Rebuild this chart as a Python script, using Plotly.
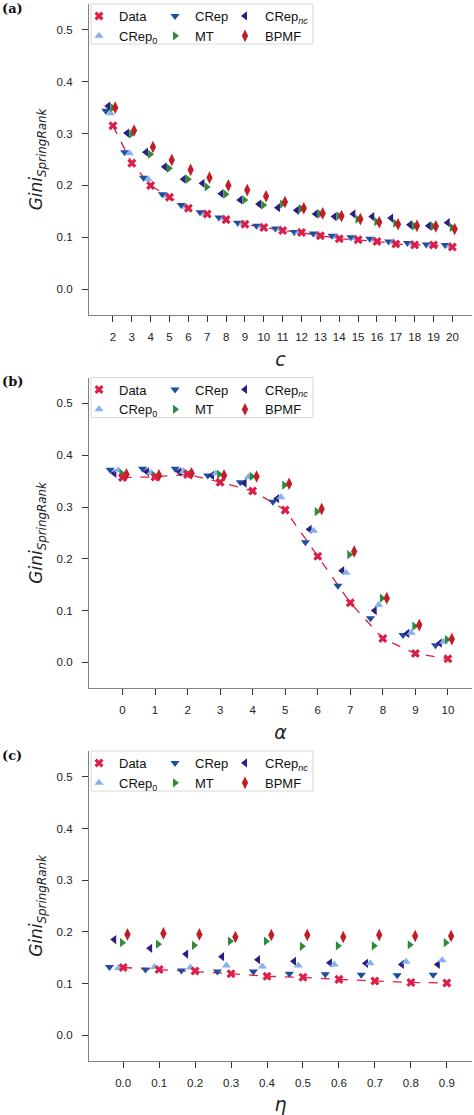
import plotly.graph_objects as go
from plotly.subplots import make_subplots

# ---- data ----
c_vals = list(range(2, 21))
a_data = [0.315, 0.243, 0.200, 0.177, 0.156, 0.145, 0.134, 0.125, 0.119, 0.113,
          0.109, 0.103, 0.097, 0.095, 0.092, 0.087, 0.085, 0.085, 0.081]
a_crep = [0.344, 0.264, 0.215, 0.183, 0.162, 0.148, 0.138, 0.128, 0.122, 0.117,
          0.110, 0.107, 0.103, 0.100, 0.097, 0.092, 0.089, 0.086, 0.085]
a_crep_nc = [0.353, 0.301, 0.264, 0.236, 0.212, 0.204, 0.184, 0.172, 0.164, 0.157,
             0.152, 0.145, 0.140, 0.145, 0.140, 0.137, 0.124, 0.122, 0.128]
a_crep0 = [0.339, 0.262, 0.212, 0.180, 0.159, 0.146, 0.137, 0.127, 0.121, 0.116,
           0.110, 0.105, 0.101, 0.098, 0.095, 0.091, 0.088, 0.085, 0.084]
a_mt = [0.350, 0.299, 0.260, 0.233, 0.212, 0.197, 0.183, 0.172, 0.162, 0.164,
        0.155, 0.145, 0.141, 0.135, 0.130, 0.127, 0.122, 0.121, 0.119]
a_bpmf = [0.350, 0.306, 0.274, 0.249, 0.230, 0.215, 0.200, 0.191, 0.179, 0.168,
          0.156, 0.146, 0.141, 0.135, 0.129, 0.125, 0.122, 0.121, 0.116]

alpha_vals = list(range(0, 11))
b_data = [0.357, 0.358, 0.363, 0.348, 0.331, 0.294, 0.205, 0.115, 0.046, 0.017, 0.007]
b_crep = [0.372, 0.374, 0.374, 0.361, 0.348, 0.310, 0.232, 0.148, 0.085, 0.053, 0.033]
b_crep_nc = [0.365, 0.368, 0.368, 0.361, 0.346, 0.316, 0.257, 0.177, 0.100, 0.056, 0.037]
b_crep0 = [0.371, 0.366, 0.369, 0.365, 0.358, 0.319, 0.254, 0.173, 0.111, 0.057, 0.040]
b_mt = [0.365, 0.361, 0.365, 0.363, 0.359, 0.342, 0.291, 0.208, 0.124, 0.070, 0.044]
b_bpmf = [0.363, 0.361, 0.365, 0.361, 0.359, 0.345, 0.296, 0.214, 0.124, 0.072, 0.045]

eta_vals = [0.0, 0.1, 0.2, 0.3, 0.4, 0.5, 0.6, 0.7, 0.8, 0.9]
eta_labels = ["0.0", "0.1", "0.2", "0.3", "0.4", "0.5", "0.6", "0.7", "0.8", "0.9"]
c_data = [0.131, 0.127, 0.124, 0.119, 0.114, 0.112, 0.108, 0.105, 0.102, 0.101]
c_crep = [0.132, 0.127, 0.125, 0.123, 0.123, 0.119, 0.118, 0.117, 0.116, 0.117]
c_crep_nc = [0.185, 0.168, 0.157, 0.152, 0.146, 0.143, 0.140, 0.139, 0.137, 0.137]
c_crep0 = [0.130, 0.132, 0.131, 0.135, 0.133, 0.135, 0.137, 0.139, 0.142, 0.145]
c_mt = [0.179, 0.176, 0.174, 0.182, 0.182, 0.172, 0.173, 0.173, 0.175, 0.179]
c_bpmf = [0.195, 0.197, 0.195, 0.190, 0.194, 0.194, 0.190, 0.194, 0.192, 0.192]

y_ticks = [0.0, 0.1, 0.2, 0.3, 0.4, 0.5]

# ---- styling ----
# col = legend column (legend laid out as 2 rows x 3 columns)
style = {
    "Data": dict(name="Data", symbol="x", color="#dc1e46", size=8, dodge=0.0, col=0),
    "CRep": dict(name="CRep", symbol="triangle-down", color="#1d4f9e", size=8, dodge=-0.38, col=1),
    "CRep_nc": dict(name="CRep<sub><i>nc</i></sub>", symbol="triangle-left", color="#2b1f85", size=8, dodge=-0.25, col=2),
    "CRep0": dict(name="CRep<sub>0</sub>", symbol="triangle-up", color="#86b0ef", size=8, dodge=-0.13, col=0),
    "MT": dict(name="MT", symbol="triangle-right", color="#2f8a3c", size=8, dodge=-0.03, col=1),
    "BPMF": dict(name="BPMF", symbol="diamond-tall", color="#bf1e24", size=9, dodge=0.12, col=2),
}
legend_order = ["Data", "CRep0", "CRep", "MT", "CRep_nc", "BPMF"]
draw_order = ["CRep", "CRep_nc", "CRep0", "MT", "BPMF", "Data"]

panels = [
    dict(x=c_vals, step=1.0, series=dict(Data=a_data, CRep=a_crep, CRep_nc=a_crep_nc,
         CRep0=a_crep0, MT=a_mt, BPMF=a_bpmf), title="<i>c</i>", label="<b>(a)</b>",
         xr=[0.73, 21.04], tickvals=c_vals, ticktext=[str(v) for v in c_vals]),
    dict(x=alpha_vals, step=1.0, series=dict(Data=b_data, CRep=b_crep, CRep_nc=b_crep_nc,
         CRep0=b_crep0, MT=b_mt, BPMF=b_bpmf), title="<i>α</i>", label="<b>(b)</b>",
         xr=[-1.03, 10.74], tickvals=alpha_vals, ticktext=[str(v) for v in alpha_vals]),
    dict(x=eta_vals, step=0.1, series=dict(Data=c_data, CRep=c_crep, CRep_nc=c_crep_nc,
         CRep0=c_crep0, MT=c_mt, BPMF=c_bpmf), title="<i>η</i>", label="<b>(c)</b>",
         xr=[-0.095, 0.97], tickvals=eta_vals, ticktext=eta_labels),
]

W, H = 474, 1115
ML, MR, MT_, MB = 89, 2, 4, 54
PW, PH = W - ML - MR, H - MT_ - MB

# panel plot areas in pixels (top, bottom)
px_areas = [(4, 315), (377.5, 688.3), (751, 1061)]
# legend column anchors (px)
leg_cols = [79, 155, 225]


def py(p):
    return (H - MB - p) / PH


def px(p):
    return (p - ML) / PW


fig = make_subplots(rows=3, cols=1)

for i, p in enumerate(panels):
    row = i + 1
    top, bot = px_areas[i]
    leg_names = []
    for j in range(3):
        n = i * 3 + j + 1
        leg_names.append("legend" if n == 1 else f"legend{n}")

    # dashed line through the data points
    fig.add_trace(go.Scatter(x=p["x"], y=p["series"]["Data"], mode="lines",
                             line=dict(color=style["Data"]["color"], width=1.3, dash="dash"),
                             showlegend=False, hoverinfo="skip"), row=row, col=1)
    for m in draw_order:
        s = style[m]
        xs = [v + s["dodge"] * p["step"] for v in p["x"]]
        fig.add_trace(go.Scatter(x=xs, y=p["series"][m], mode="markers", name=s["name"],
                                 marker=dict(symbol=s["symbol"], color=s["color"], size=s["size"],
                                             line=dict(width=0)),
                                 legend=leg_names[s["col"]], legendrank=legend_order.index(m) + 1),
                      row=row, col=1)

    fig.update_yaxes(domain=[py(bot), py(top)], row=row, col=1)
    fig.update_xaxes(range=p["xr"], tickvals=p["tickvals"], ticktext=p["ticktext"],
                     title=dict(text=p["title"], font=dict(family="DejaVu Sans", size=19, color="#222"),
                                standoff=10),
                     row=row, col=1)
    fig.update_yaxes(range=[-0.05, 0.55], tickvals=y_ticks, ticktext=[f"{v:.1f}" for v in y_ticks],
                     title=dict(text="<i>Gini</i><sub><i>SpringRank</i></sub>",
                                font=dict(family="DejaVu Sans", size=17, color="#222"), standoff=9),
                     ticklabelstandoff=7, row=row, col=1)

    for j, ln in enumerate(leg_names):
        fig.update_layout({ln: dict(orientation="v", x=px(leg_cols[j]), xanchor="left",
                                    y=py(top - 3), yanchor="top",
                                    bgcolor="rgba(0,0,0,0)", borderwidth=0, tracegroupgap=0,
                                    font=dict(family="Liberation Sans", size=13, color="#111"))})
    # legend frame
    fig.add_shape(type="rect", xref="paper", yref="paper",
                  x0=px(91), x1=px(313), y0=py(top + 40), y1=py(top),
                  line=dict(color="#d8d8d8", width=1), fillcolor="white", layer="below")
    # panel letter
    fig.add_annotation(text=p["label"], xref="paper", yref="paper", x=px(0), y=py(top + 4),
                       xanchor="left", yanchor="middle", showarrow=False,
                       font=dict(family="DejaVu Serif", size=13, color="#111"))

axis_style = dict(showline=True, linecolor="#808080", linewidth=1.3, ticks="outside", ticklen=6,
                  tickwidth=1.2, tickcolor="#333", showgrid=False, zeroline=False, automargin=False,
                  tickfont=dict(family="Liberation Sans", size=11.5, color="#222"))
fig.update_xaxes(ticklabelstandoff=5, **axis_style)
fig.update_yaxes(**axis_style)

fig.update_layout(width=W, height=H, margin=dict(l=ML, r=MR, t=MT_, b=MB, autoexpand=False),
                  plot_bgcolor="white", paper_bgcolor="white")

# the page body has a default 8px margin; drop it so the figure fills the window
fig.write_html("out.html", config={"displayModeBar": False},
               post_script="document.body.style.margin='0';")
